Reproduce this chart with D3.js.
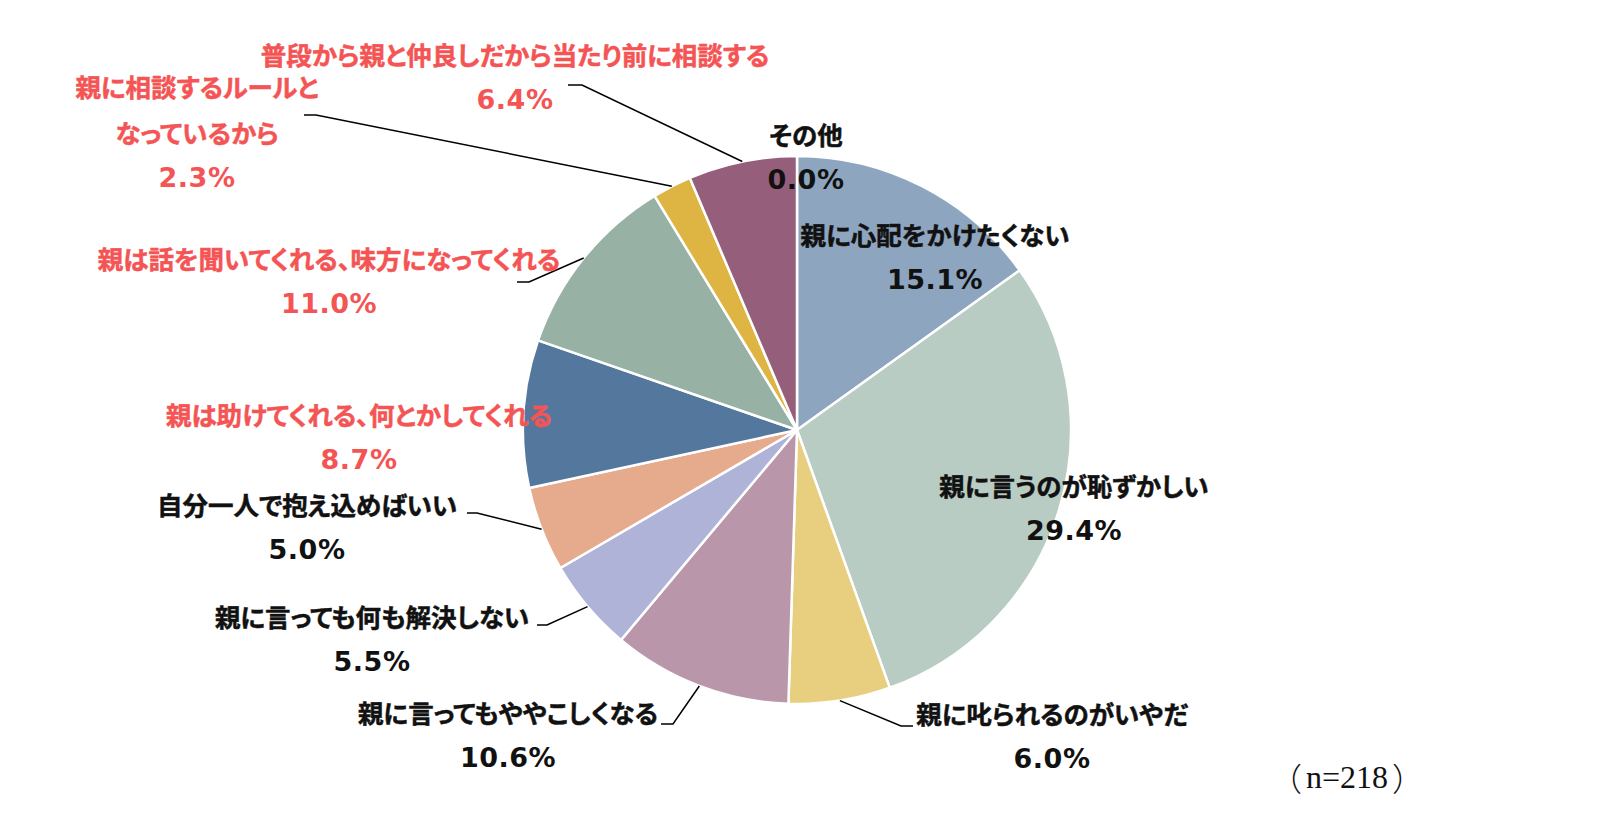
<!DOCTYPE html>
<html>
<head>
<meta charset="utf-8">
<script src="https://cdn.jsdelivr.net/npm/d3@7"></script>
<style>
  body { margin: 0; background: #fff; }
  svg { display: block; }
  .lbl { font-family: "Noto Sans CJK JP", sans-serif; font-weight: 700; font-feature-settings: "palt"; }
  .pct { font-family: "DejaVu Sans", Verdana, sans-serif; font-weight: 700; letter-spacing: 0.5px; }
</style>
</head>
<body>
<div id="chart"></div>
<script>
// slices clockwise from 12 o'clock
var categories = [
    "親に心配をかけたくない",
    "親に言うのが恥ずかしい",
    "親に叱られるのがいやだ",
    "親に言ってもややこしくなる",
    "親に言っても何も解決しない",
    "自分一人で抱え込めばいい",
    "親は助けてくれる、何とかしてくれる",
    "親は話を聞いてくれる、味方になってくれる",
    "親に相談するルールと\nなっているから",
    "普段から親と仲良しだから当たり前に相談する",
    "その他"
];
var values = [15.1, 29.4, 6.0, 10.6, 5.5, 5.0, 8.7, 11.0, 2.3, 6.4, 0.0];
var sampleSize = "n=218";

var palette = ["#8EA5BF", "#B8CCC3", "#E8CF80", "#BA96AB", "#B0B3D8", "#E5AB8C",
               "#54789D", "#97B2A5", "#DEB442", "#955F7C", "#999999"];

// hand placed labels, like the original: label centre + optional leader (horizontal part)
var labelLayout = [
    { x: 935, y: 233, red: false },
    { x: 1074, y: 484, red: false },
    { x: 1052, y: 712, red: false, leader: [913, 901, 726] },
    { x: 508, y: 711, red: false, leader: [661, 673, 724] },
    { x: 372, y: 615, red: false, leader: [537, 547, 625] },
    { x: 307, y: 503, red: false, leader: [467, 477, 513] },
    { x: 359, y: 413, red: true },
    { x: 329, y: 257, red: true, leader: [517, 529, 282] },
    { x: 197, y: 85, red: true, leader: [304, 316, 115] },
    { x: 515, y: 53, red: true, leader: [568, 582, 85] },
    { x: 806, y: 133, red: false }
];

var width = 1600, height = 815;
var cx = 797, cy = 430, radius = 274;
var lineGap = 46;

var svg = d3.select("#chart").append("svg")
    .attr("width", width)
    .attr("height", height);

var data = categories.map(function(c, i) { return { name: c, value: values[i], i: i }; });

var pie = d3.pie()
    .sort(null)
    .value(function(d) { return d.value; });

var arc = d3.arc()
    .innerRadius(0)
    .outerRadius(radius);

var arcs = pie(data);

var g = svg.append("g")
    .attr("transform", "translate(" + cx + "," + cy + ")");

g.selectAll("path")
    .data(arcs.filter(function(d) { return d.data.value > 0; }))
    .enter()
    .append("path")
    .attr("d", arc)
    .attr("fill", function(d) { return palette[d.data.i]; })
    .attr("stroke", "#fff")
    .attr("stroke-width", 2.5)
    .attr("stroke-linejoin", "round");

// leader lines: from label to the slice edge at its mid angle
arcs.forEach(function(d) {
    var lay = labelLayout[d.data.i];
    if (!lay.leader) return;
    var mid = (d.startAngle + d.endAngle) / 2;
    var ex = cx + radius * Math.sin(mid);
    var ey = cy - radius * Math.cos(mid);
    var pts = [[lay.leader[0], lay.leader[2]], [lay.leader[1], lay.leader[2]], [ex, ey]];
    svg.append("path")
        .attr("d", d3.line()(pts))
        .attr("fill", "none")
        .attr("stroke", "#000")
        .attr("stroke-width", 1.5);
});

// labels
arcs.forEach(function(d) {
    var lay = labelLayout[d.data.i];
    var color = lay.red ? "#F45454" : "#111";
    var lines = d.data.name.split("\n");
    var t = svg.append("g");
    lines.forEach(function(s, k) {
        t.append("text")
            .attr("class", "lbl")
            .attr("x", lay.x)
            .attr("y", lay.y + k * lineGap)
            .attr("text-anchor", "middle")
            .attr("dominant-baseline", "central")
            .attr("font-size", "25.5px")
            .attr("fill", color)
            .attr("stroke", color)
            .attr("stroke-width", 0.5)
            .text(s);
    });
    t.append("text")
        .attr("class", "pct")
        .attr("x", lay.x)
        .attr("y", lay.y + lines.length * lineGap)
        .attr("text-anchor", "middle")
        .attr("dominant-baseline", "central")
        .attr("font-size", "27px")
        .attr("fill", color)
        .text(d3.format(".1f")(d.data.value) + "%");
});

// sample size note
var note = svg.append("text")
    .attr("x", 1347)
    .attr("y", 777)
    .attr("text-anchor", "middle")
    .attr("dominant-baseline", "central")
    .attr("fill", "#111");
note.append("tspan")
    .attr("font-family", "'Noto Sans CJK JP', sans-serif")
    .attr("font-weight", 300)
    .attr("font-size", "32px")
    .text("（");
note.append("tspan")
    .attr("dx", 4)
    .attr("font-family", "'Liberation Serif', 'DejaVu Serif', serif")
    .attr("font-size", "32px")
    .text(sampleSize);
note.append("tspan")
    .attr("dx", 4)
    .attr("font-family", "'Noto Sans CJK JP', sans-serif")
    .attr("font-weight", 300)
    .attr("font-size", "32px")
    .text("）");
</script>
</body>
</html>
